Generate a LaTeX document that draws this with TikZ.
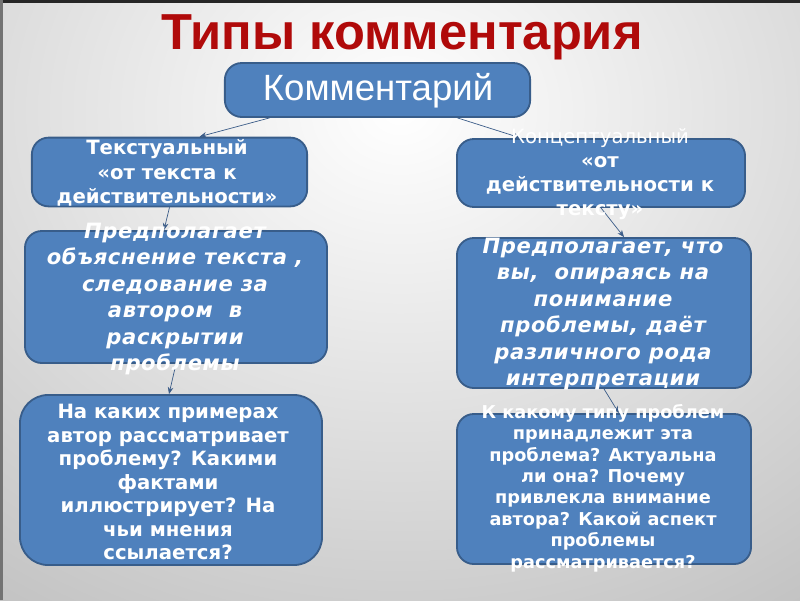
\documentclass[tikz,border=0pt]{standalone}
\usepackage{fontspec}
\setmainfont{DejaVu Sans}
\newfontfamily\titlefont{Liberation Sans}
\newfontfamily\widefont[LetterSpace=3]{DejaVu Sans}
\usetikzlibrary{arrows.meta}
\definecolor{boxfill}{HTML}{4F81BD}
\definecolor{boxedge}{HTML}{385D8A}
\definecolor{linkblue}{HTML}{3B5C88}
\definecolor{titlered}{HTML}{B00A0A}
\definecolor{bggray}{HTML}{9A9A9A}

\begin{document}
\begin{tikzpicture}[x=0.025cm, y=-0.025cm,
    blok/.style={draw=boxedge, line width=1.3pt, fill=boxfill, rounded corners=12pt, inner sep=0pt},
    txt/.style={text=white, align=center, inner sep=0pt},
    link/.style={draw=linkblue, line width=0.5pt, -{Stealth[length=5pt, width=4pt]}}]
    \useasboundingbox (0,0) rectangle (800,600);
    \fill[bggray] (0,0) rectangle (800,600);
    \begin{scope}
        \clip (0,0) rectangle (800,600);
        \shade[inner color=white, outer color=bggray] (400,110) ellipse (30cm and 25cm);
    \end{scope}
    \fill[black!85] (0,0) rectangle (800,3);
    \fill[black!55] (0,0) rectangle (3,600);

    \node[text=titlered, font=\titlefont\bfseries\fontsize{36}{40}\selectfont] (titel) at (402,37) {Типы комментария};

    \node[blok, minimum width=7.63cm, minimum height=1.35cm] (kom) at (377.5,90) {};
    \node[blok, minimum width=6.88cm, minimum height=1.72cm] (tekst) at (169.5,172) {};
    \node[blok, minimum width=7.55cm, minimum height=3.3cm] (obyasn) at (176,297) {};
    \node[blok, minimum width=7.55cm, minimum height=4.25cm, rounded corners=20pt] (primery) at (171,480) {};
    \node[blok, minimum width=7.2cm, minimum height=1.7cm] (konc) at (601,173) {};
    \node[blok, minimum width=7.35cm, minimum height=3.75cm] (interp) at (604,313) {};
    \node[blok, minimum width=7.35cm, minimum height=3.75cm] (voprosy) at (604,489) {};

    \draw[link] ([xshift=-2.7cm]kom.south) -- ([xshift=0.75cm]tekst.north);
    \draw[link] ([xshift=2cm]kom.south) -- ([xshift=-2cm]konc.north);
    \draw[link] (tekst.south) -- ([xshift=-0.3cm]obyasn.north);
    \draw[link] (obyasn.south) -- ([xshift=-0.05cm]primery.north);
    \draw[link] (konc.south) -- ([xshift=0.5cm]interp.north);
    \draw[link] (interp.south) -- ([xshift=0.37cm]voprosy.north);

    \node[txt, font=\titlefont\fontsize{26}{30}\selectfont] (kom-t) at (378,91) {Комментарий};
    \node[txt, font=\bfseries\fontsize{14}{17.5}\selectfont] (tekst-t) at (167,173) {Текстуальный\\«от текста к\\действительности»};
    \node[txt, font=\widefont\bfseries\itshape\fontsize{15}{18.8}\selectfont] (obyasn-t) at (175,299) {Предполагает\\объяснение текста ,\\следование за\\автором\ \ в\\раскрытии\\проблемы};
    \node[txt, font=\bfseries\fontsize{14}{16.7}\selectfont] (primery-t) at (168,482) {На каких примерах\\автор рассматривает\\проблему? Какими\\фактами\\иллюстрирует? На\\чьи мнения\\ссылается?};
    \node[txt, font=\fontsize{14}{17}\selectfont] (konc-t) at (600,174) {Концептуальный\\\textbf{«от}\\\textbf{действительности к}\\\textbf{тексту»}};
    \node[txt, font=\widefont\bfseries\itshape\fontsize{15}{18.8}\selectfont] (interp-t) at (603,314) {Предполагает, что\\вы,\ \ опираясь на\\понимание\\проблемы, даёт\\различного рода\\интерпретации};
    \node[txt, font=\bfseries\fontsize{12.6}{15.2}\selectfont] (voprosy-t) at (603,488) {К какому типу проблем\\принадлежит эта\\проблема? Актуальна\\ли она? Почему\\привлекла внимание\\автора? Какой аспект\\проблемы\\рассматривается?};
\end{tikzpicture}
\end{document}
